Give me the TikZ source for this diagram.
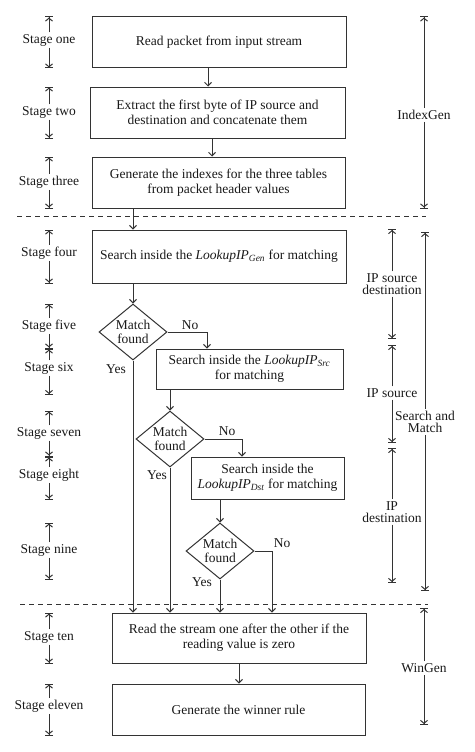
\documentclass[tikz,border=0pt]{standalone}
\usepackage{fontspec}
\setmainfont{Liberation Serif}
\usetikzlibrary{positioning,shapes.geometric,arrows.meta}
\newcommand{\lookup}[1]{\textit{LookupIP}\textsubscript{\textit{#1}}}

\begin{document}
\begin{tikzpicture}[x=1pt,y=-1pt,
    every node/.style={text=black!90,font=\fontsize{13.5}{15}\selectfont},
    line/.style={draw=black!80,line width=1pt},
    proc/.style={line,minimum width=#1,align=center,inner sep=2pt},
    test/.style={line,diamond,aspect=1.2,minimum width=68pt,minimum height=56pt,inner sep=0pt,align=center,font=\fontsize{13.5}{14}\selectfont},
    stage/.style={inner sep=1.5pt},
    side/.style={align=center,inner sep=2pt,font=\fontsize{13.5}{12}\selectfont},
    dim/.style={line,-{Straight Barb[length=3pt,width=7pt]Bar[width=8pt]}},
    >={Straight Barb[length=3.5pt,width=7pt]}]
    \useasboundingbox (0,0) rectangle (474,752);

    % processing steps
    \node[proc=254pt,minimum height=51pt] (read) at (219,42.5) {Read packet from input stream};
    \node[proc=255pt,minimum height=51pt] (extract) at (217.5,112.5) {Extract the first byte of IP source and\\destination and concatenate them};
    \node[proc=253pt,minimum height=51pt] (index) at (218.5,182.5) {Generate the indexes for the three tables\\from packet header values};
    \node[proc=254pt,minimum height=53pt] (gen) at (219,256.5) {Search inside the \lookup{Gen} for matching};
    \node[test] (m1) at (133,332) {Match\\found};
    \node[proc=187pt,minimum height=40pt] (src) at (249.5,369) {Search inside the \lookup{Src}\\for matching};
    \node[test] (m2) at (170,439) {Match\\found};
    \node[proc=153pt,minimum height=42pt] (dst) at (267.5,478) {Search inside the\\\lookup{Dst} for matching};
    \node[test] (m3) at (220,551) {Match\\found};
    \node[proc=254pt,minimum height=50pt] (stream) at (239,638) {Read the stream one after the other if the\\reading value is zero};
    \node[proc=253pt,minimum height=51pt] (winner) at (238.5,709.5) {Generate the winner rule};

    \node (no1) at (190,325) {No};
    \node (yes1) at (116,369) {Yes};
    \node (no2) at (227,431) {No};
    \node (yes2) at (157,475) {Yes};
    \node (no3) at (282,543) {No};
    \node (yes3) at (202,582) {Yes};

    \draw[line,->] ([xshift=-11pt]read.south) -- ([xshift=-11pt]read.south |- extract.north);
    \draw[line,->] ([xshift=-5.5pt]extract.south) -- ([xshift=-5.5pt]extract.south |- index.north);
    \draw[line,->] (index.south -| m1) -- (gen.north -| m1);
    \draw[line,->] (gen.south -| m1) -- (m1.north);
    \draw[line,->] (m1.east) -| ([xshift=-42.5pt]src.north);
    \draw[line,->] (src.south -| m2) -- (m2.north);
    \draw[line,->] (m2.east) -| ([xshift=-25.5pt]dst.north);
    \draw[line,->] (dst.south -| m3) -- (m3.north);
    \draw[line,->] (m3.east) -| ([xshift=33pt]stream.north);
    \draw[line,->] (m1.south) -- (m1.south |- stream.north);
    \draw[line,->] (m2.south) -- (m2.south |- stream.north);
    \draw[line,->] (m3.south) -- (m3.south |- stream.north);
    \draw[line,->] (stream.south) -- (stream.south |- winner.north);

    % separators
    \draw[line,dash pattern=on 5pt off 4pt] (17,216) -- (426,216);
    \draw[line,dash pattern=on 5pt off 4pt] (20,604) -- (428,604);

    % stages
    \node[stage] (s1) at (49,40) {Stage one};
    \node[stage] (s2) at (49,112) {Stage two};
    \node[stage] (s3) at (49,182) {Stage three};
    \node[stage] (s4) at (49,253) {Stage four};
    \node[stage] (s5) at (49,326) {Stage five};
    \node[stage] (s6) at (49,368) {Stage six};
    \node[stage] (s7) at (49,433) {Stage seven};
    \node[stage] (s8) at (49,475) {Stage eight};
    \node[stage] (s9) at (49,550) {Stage nine};
    \node[stage] (s10) at (49,637) {Stage ten};
    \node[stage] (s11) at (49,706) {Stage eleven};
    \coordinate (s6 end) at (49,395);

    \draw[dim] (s1.north) -- (s1.north |- read.north);
    \draw[dim] (s1.south) -- (s1.south |- read.south);
    \draw[dim] (s2.north) -- (s2.north |- extract.north);
    \draw[dim] (s2.south) -- (s2.south |- extract.south);
    \draw[dim] (s3.north) -- (s3.north |- index.north);
    \draw[dim] (s3.south) -- (s3.south |- index.south);
    \draw[dim] (s4.north) -- (s4.north |- gen.north);
    \draw[dim] (s4.south) -- (s4.south |- gen.south);
    \draw[dim] (s5.north) -- (s5.north |- m1.north);
    \draw[dim] (s5.south) -- (s5.south |- src.north);
    \draw[dim] (s6.north) -- (s6.north |- src.north);
    \draw[dim] (s6.south) -- (s6 end);
    \draw[dim] (s7.north) -- (s7.north |- m2.north);
    \draw[dim] (s7.south) -- (s7.south |- dst.north);
    \draw[dim] (s8.north) -- (s8.north |- dst.north);
    \draw[dim] (s8.south) -- (s8.south |- dst.south);
    \draw[dim] (s9.north) -- (s9.north |- m3.north);
    \draw[dim] (s9.south) -- (s9.south |- m3.south);
    \draw[dim] (s10.north) -- (s10.north |- stream.north);
    \draw[dim] (s10.south) -- (s10.south |- stream.south);
    \draw[dim] (s11.north) -- (s11.north |- winner.north);
    \draw[dim] (s11.south) -- (s11.south |- winner.south);

    % modules
    \node[side] (ig) at (424,115) {IndexGen};
    \node[side] (ipsd) at (392,284) {IP source\\destination};
    \node[side] (ips) at (392,393) {IP source};
    \node[side] (ipd) at (392,512) {IP\\destination};
    \node[side] (sm) at (425,422) {Search and\\Match};
    \node[side] (wg) at (424,668) {WinGen};
    \coordinate (ipsd top) at (392,229);
    \coordinate (ipsd bot) at (392,339);
    \coordinate (ips top) at (392,345);
    \coordinate (ips bot) at (392,443);
    \coordinate (ipd top) at (392,448);
    \coordinate (ipd bot) at (392,583);
    \coordinate (sm top) at (425,232);
    \coordinate (sm bot) at (425,591);
    \coordinate (wg top) at (424,608);
    \coordinate (wg bot) at (424,725);

    \draw[dim] (ig.north) -- (ig.north |- read.north);
    \draw[dim] (ig.south) -- (ig.south |- index.south);
    \draw[dim] (ipsd.north) -- (ipsd top);
    \draw[dim] (ipsd.south) -- (ipsd bot);
    \draw[dim] (ips.north) -- (ips top);
    \draw[dim] (ips.south) -- (ips bot);
    \draw[dim] (ipd.north) -- (ipd top);
    \draw[dim] (ipd.south) -- (ipd bot);
    \draw[dim] (sm.north) -- (sm top);
    \draw[dim] (sm.south) -- (sm bot);
    \draw[dim] (wg.north) -- (wg top);
    \draw[dim] (wg.south) -- (wg bot);
\end{tikzpicture}
\end{document}
